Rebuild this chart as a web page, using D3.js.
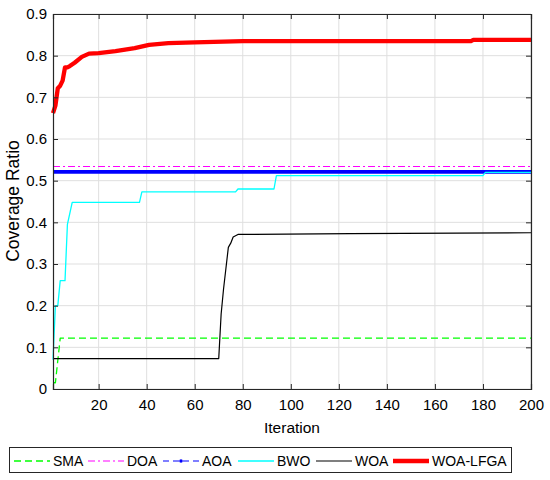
<!DOCTYPE html>
<html>
<head>
<meta charset="utf-8">
<script src="https://cdn.jsdelivr.net/npm/d3@7"></script>
<style>
  body { margin: 0; background: #fff; }
  svg { font-family: "Liberation Sans", Arial, sans-serif; }
</style>
</head>
<body>
<svg id="chart" width="550" height="480"></svg>
<script>
// data (iteration, coverage ratio) breakpoints
const smaIter = [1, 2, 4, 200];
const smaVal = [0.015, 0.015, 0.122, 0.122];

const doaIter = [1, 200];
const doaVal = [0.534, 0.534];

const aoaIter = [1, 200];
const aoaVal = [0.521, 0.521];

const bwoIter = [1, 2, 3, 4, 6, 7, 9, 37, 38, 77, 78, 93, 94, 180, 181, 200];
const bwoVal = [0.07, 0.2, 0.2, 0.26, 0.26, 0.395, 0.448, 0.448, 0.473, 0.473, 0.48, 0.48, 0.512, 0.512, 0.52, 0.52];

const woaIter = [1, 70, 71, 72, 74, 75, 76, 78, 125, 200];
const woaVal = [0.073, 0.073, 0.18, 0.24, 0.34, 0.35, 0.365, 0.371, 0.373, 0.375];

const lfgaIter = [1, 2, 3, 4, 5, 6, 7, 8, 10, 13, 16, 20, 27, 35, 41, 49, 60, 80, 175, 176, 200];
const lfgaVal = [0.662, 0.68, 0.722, 0.728, 0.74, 0.772, 0.772, 0.775, 0.783, 0.797, 0.805, 0.806, 0.811, 0.818, 0.826, 0.83, 0.832, 0.835, 0.835, 0.838, 0.838];

const xTicks = [20, 40, 60, 80, 100, 120, 140, 160, 180, 200];
const yTicks = [0, 0.1, 0.2, 0.3, 0.4, 0.5, 0.6, 0.7, 0.8, 0.9];

const seriesNames = ["SMA", "DOA", "AOA", "BWO", "WOA", "WOA-LFGA"];

const svg = d3.select("#chart");
const plotLeft = 53, plotRight = 531, plotTop = 14, plotBottom = 389;

const x = d3.scaleLinear().domain([1, 200]).range([plotLeft, plotRight]);
const y = d3.scaleLinear().domain([0, 0.9]).range([plotBottom, plotTop]);

const axisColor = "#262626";

// grid
const grid = svg.append("g");
grid.selectAll("line.gx")
    .data(xTicks)
    .enter()
    .append("line")
    .attr("x1", d => x(d)).attr("x2", d => x(d))
    .attr("y1", plotTop).attr("y2", plotBottom)
    .attr("stroke", "#dfdfdf").attr("stroke-width", 1);
grid.selectAll("line.gy")
    .data(yTicks)
    .enter()
    .append("line")
    .attr("x1", plotLeft).attr("x2", plotRight)
    .attr("y1", d => y(d)).attr("y2", d => y(d))
    .attr("stroke", "#dfdfdf").attr("stroke-width", 1);

// series
const styles = [
    {iter: smaIter, val: smaVal, color: "#00ff00", width: 1.3, dash: "7,4"},
    {iter: doaIter, val: doaVal, color: "#ff00ff", width: 1.1, dash: "7,3,2,3"},
    {iter: aoaIter, val: aoaVal, color: "#0000ff", width: 3.6, dash: null},
    {iter: bwoIter, val: bwoVal, color: "#00ffff", width: 1.3, dash: null},
    {iter: woaIter, val: woaVal, color: "#000000", width: 1.2, dash: null},
    {iter: lfgaIter, val: lfgaVal, color: "#ff0000", width: 4.3, dash: null}
];

const line = d3.line()
    .x(d => x(d[0]))
    .y(d => y(d[1]));

const plot = svg.append("g");
styles.forEach(function (s) {
    const pts = s.iter.map((it, i) => [it, s.val[i]]);
    plot.append("path")
        .datum(pts)
        .attr("d", line)
        .attr("fill", "none")
        .attr("stroke", s.color)
        .attr("stroke-width", s.width)
        .attr("stroke-dasharray", s.dash)
        .attr("stroke-linejoin", "round");
});

// axes
const xAxis = d3.axisBottom(x).tickValues(xTicks).tickSize(-5).tickPadding(10);
const yAxis = d3.axisLeft(y).tickValues(yTicks).tickSize(-5).tickPadding(6)
    .tickFormat(d => d === 0 ? "0" : d3.format(".1f")(d));

const gx = svg.append("g").attr("transform", `translate(0,${plotBottom})`).call(xAxis);
const gy = svg.append("g").attr("transform", `translate(${plotLeft},0)`).call(yAxis);
const gxTop = svg.append("g").attr("transform", `translate(0,${plotTop})`)
    .call(d3.axisTop(x).tickValues(xTicks).tickSize(-5).tickFormat(""));
const gyRight = svg.append("g").attr("transform", `translate(${plotRight},0)`)
    .call(d3.axisRight(y).tickValues(yTicks).tickSize(-5).tickFormat(""));

[gx, gy, gxTop, gyRight].forEach(function (g) {
    g.select(".domain").attr("stroke", axisColor).attr("stroke-width", 1.2);
    g.selectAll(".tick line").attr("stroke", axisColor);
    g.selectAll(".tick text")
        .attr("fill", "#000")
        .style("font-size", "15px")
        .style("font-family", "'Liberation Sans', Arial, sans-serif");
});

svg.append("text")
    .attr("x", (plotLeft + plotRight) / 2)
    .attr("y", 433)
    .attr("text-anchor", "middle")
    .style("font-size", "15.5px")
    .text("Iteration");

svg.append("text")
    .attr("transform", `translate(19,201) rotate(-90)`)
    .attr("text-anchor", "middle")
    .style("font-size", "17.5px")
    .text("Coverage Ratio");

// legend
const legend = svg.append("g");
legend.append("rect")
    .attr("x", 9.5).attr("y", 447.5)
    .attr("width", 502).attr("height", 25)
    .attr("fill", "#fff")
    .attr("stroke", axisColor)
    .attr("stroke-width", 1);

const legendX = [14, 88, 163, 238, 316, 393];
const legendY = 461;
seriesNames.forEach(function (name, i) {
    const s = styles[i];
    const lx = legendX[i];
    legend.append("line")
        .attr("x1", lx).attr("x2", lx + 36)
        .attr("y1", legendY).attr("y2", legendY)
        .attr("stroke", s.color)
        .attr("stroke-width", name === "AOA" ? 1.2 : s.width)
        .attr("stroke-dasharray", name === "AOA" ? "6,4" : s.dash);
    if (name === "AOA") {
        legend.append("circle")
            .attr("cx", lx + 18).attr("cy", legendY).attr("r", 1.8)
            .attr("fill", s.color);
    }
    legend.append("text")
        .attr("x", lx + 39)
        .attr("y", legendY + 5)
        .style("font-size", "14px")
        .text(name);
});
</script>
</body>
</html>
